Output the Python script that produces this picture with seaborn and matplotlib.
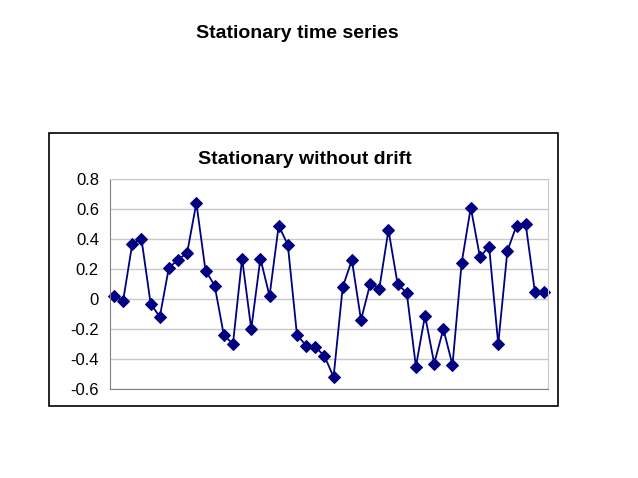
import matplotlib
matplotlib.use("Agg")
import matplotlib.pyplot as plt
import seaborn as sns
import pandas as pd
from matplotlib.patches import Rectangle

values = [0.02, -0.01, 0.37, 0.40, -0.03, -0.12, 0.21, 0.26, 0.31, 0.64,
          0.19, 0.09, -0.24, -0.30, 0.27, -0.20, 0.27, 0.02, 0.49, 0.36,
          -0.24, -0.31, -0.32, -0.38, -0.52, 0.08, 0.26, -0.14, 0.10, 0.07,
          0.46, 0.10, 0.04, -0.45, -0.11, -0.43, -0.20, -0.44, 0.24, 0.61,
          0.28, 0.35, -0.30, 0.32, 0.49, 0.50, 0.05, 0.05]
periods = list(range(1, len(values) + 1))
y_ticks = [-0.6, -0.4, -0.2, 0, 0.2, 0.4, 0.6, 0.8]

df = pd.DataFrame({"t": periods, "value": values})

sns.set_style("white")
plt.rcParams['font.family'] = ['Liberation Sans', 'DejaVu Sans']
plt.rcParams['text.color'] = 'black'
plt.rcParams['ytick.color'] = 'black'

fig = plt.figure(figsize=(6.38, 4.78), dpi=100)
fig.patches.append(Rectangle((49 / 638, 1 - 406 / 478), 509 / 638, 273 / 478,
                             transform=fig.transFigure, fill=False,
                             edgecolor="black", linewidth=1.2))
fig.text(297 / 638, 1 - 33 / 478, "Stationary time series", ha="center",
         va="center", fontsize=14, fontweight="bold", color="black")
fig.text(305 / 638, 1 - 160 / 478, "Stationary without drift", ha="center",
         va="center", fontsize=14, fontweight="bold", color="black")

ax = fig.add_axes([110 / 638, 1 - 389 / 478, 438 / 638, 210 / 478])
sns.lineplot(data=df, x="t", y="value", ax=ax, color="#000080", marker="D",
             markersize=6, markeredgecolor="#000080", linewidth=1.3)
for line in ax.lines:
    line.set_clip_on(False)
ax.set_xlim(0.56, len(values) + 0.44)
ax.set_ylim(-0.6, 0.8)
ax.set_yticks(y_ticks)
ax.set_yticklabels(["0" if v == 0 else f"{v:.1f}" for v in y_ticks], fontsize=12)
ax.set_xticks([])
ax.set_xlabel("")
ax.set_ylabel("")
ax.yaxis.grid(True, color="#c8c8c8", linewidth=1)
ax.tick_params(axis="y", length=0, pad=8, labelcolor="black")
for side in ["top", "right"]:
    ax.spines[side].set_color("#c8c8c8")
for side in ["left", "bottom"]:
    ax.spines[side].set_color("#808080")

fig.savefig("out.png", dpi=100)
